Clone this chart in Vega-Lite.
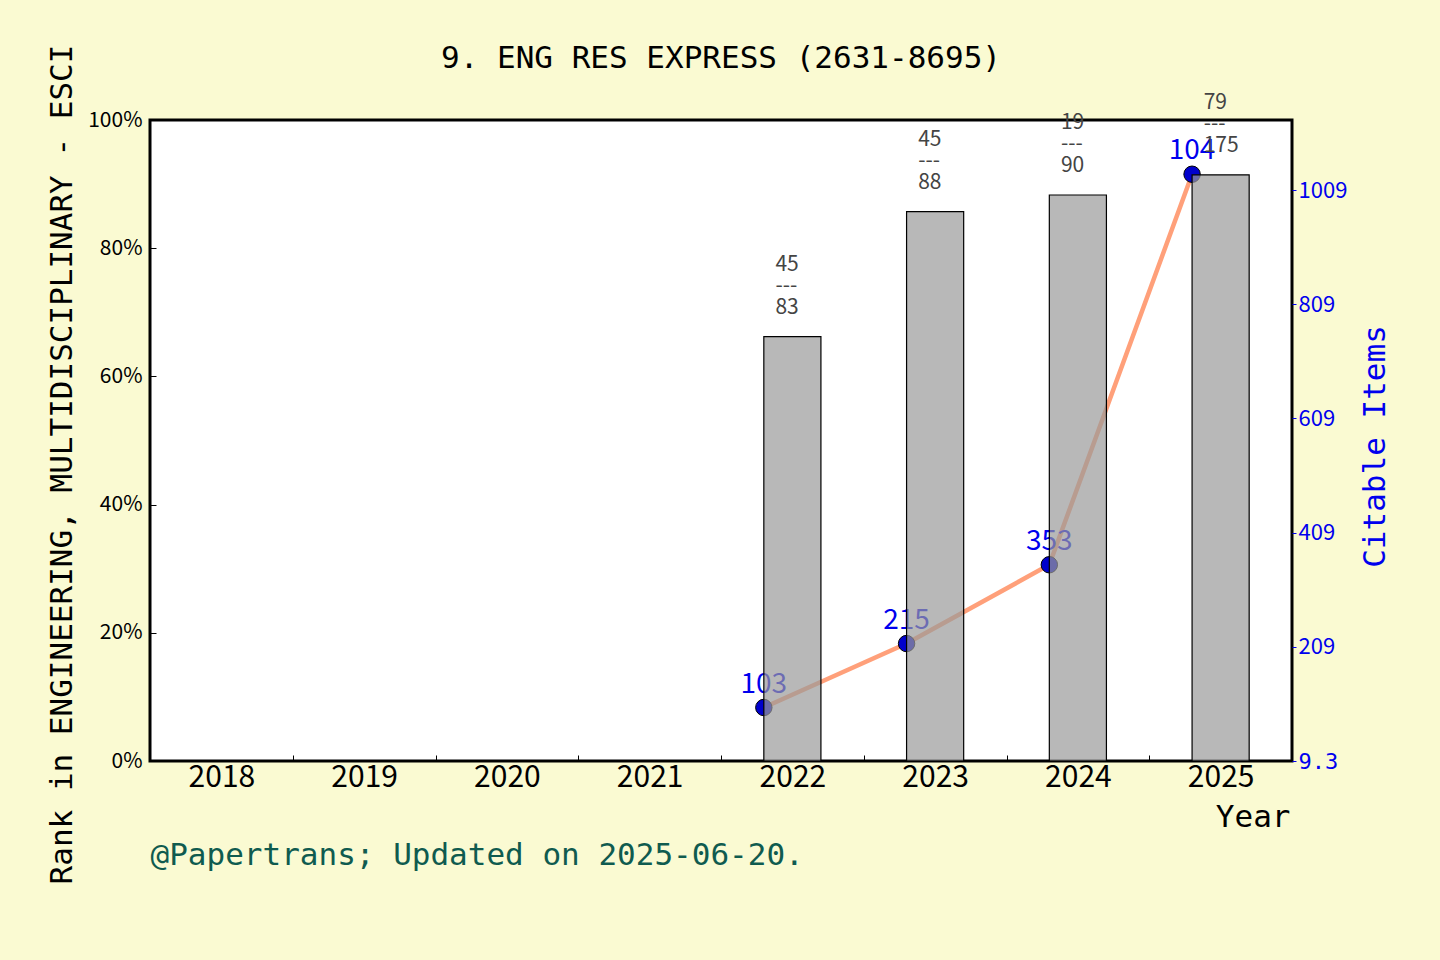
{
  "$schema": "https://vega.github.io/schema/vega-lite/v6.json",
  "width": 1142,
  "height": 641,
  "autosize": {"type": "none"},
  "padding": {"left": 150, "top": 120, "right": 148, "bottom": 199},
  "background": "#fafad2",
  "config": {
    "view": {"fill": "white", "stroke": "black", "strokeWidth": 3},
    "axis": {"grid": false, "domain": false}
  },
  "title": {
    "text": "9. ENG RES EXPRESS (2631-8695)",
    "font": "DejaVu Sans Mono",
    "fontSize": 31,
    "fontWeight": "normal",
    "color": "black",
    "anchor": "middle",
    "offset": -31
  },
  "datasets": {
    "cites": [
      {"year": "2022", "items": 103, "label": "103"},
      {"year": "2023", "items": 215, "label": "215"},
      {"year": "2024", "items": 353, "label": "353"},
      {"year": "2025", "items": 1037, "label": "104"}
    ],
    "ranks": [
      {"year": "2022", "pct": 0.662, "rank": "45\n---\n83"},
      {"year": "2023", "pct": 0.857, "rank": "45\n---\n88"},
      {"year": "2024", "pct": 0.883, "rank": "19\n---\n90"},
      {"year": "2025", "pct": 0.9145, "rank": "79\n---\n175"}
    ]
  },
  "layer": [
    {
      "data": {"name": "cites"},
      "encoding": {
        "x": {
          "field": "year",
          "type": "ordinal",
          "bandPosition": 0.3,
          "scale": {"type": "band", "domain": ["2018", "2019", "2020", "2021", "2022", "2023", "2024", "2025"], "paddingInner": 0, "paddingOuter": 0},
          "axis": {
            "orient": "bottom",
            "domain": false,
            "ticks": false,
            "labels": false,
            "title": "@Papertrans; Updated on 2025-06-20.",
            "titleFont": "DejaVu Sans Mono",
            "titleFontSize": 31,
            "titleFontWeight": "normal",
            "titleColor": "#0f5b4f",
            "titleX": 0,
            "titleY": 94,
            "titleAlign": "left",
            "titleBaseline": "middle",
            "titleAngle": 0
          }
        },
        "y": {
          "field": "items",
          "type": "quantitative",
          "scale": {"domain": [9.3, 1132], "zero": false, "nice": false},
          "axis": {
            "orient": "right",
            "values": [9.3, 209.3, 409.3, 609.3, 809.3, 1009.3],
            "labelExpr": "datum.value < 10 ? '9.3' : format(datum.value, '.0f')",
            "labelColor": "#0000ee",
            "labelFont": {"condition": {"test": "datum.value < 10", "value": "DejaVu Sans Mono"}, "value": "Noto Sans CJK SC"},
            "labelFontSize": 22,
            "labelPadding": 2,
            "tickColor": "#0000ee",
            "tickSize": 4,
            "title": "Citable Items",
            "titleColor": "#0000ee",
            "titleFont": "DejaVu Sans Mono",
            "titleFontSize": 31,
            "titleFontWeight": "normal",
            "titleAngle": -90,
            "titleX": 83,
            "titleY": 326,
            "titleAlign": "center",
            "titleBaseline": "middle"
          }
        }
      },
      "layer": [
        {"mark": {"type": "line", "color": "#ffa07a", "strokeWidth": 4.5}},
        {"mark": {"type": "point", "shape": "circle", "filled": true, "fill": "#0000cc", "stroke": "black", "strokeWidth": 1, "size": 270, "opacity": 1}},
        {
          "mark": {"type": "text", "align": "center", "baseline": "alphabetic", "dy": -15, "font": "Noto Sans CJK SC", "fontSize": 28, "color": "#0000ee"},
          "encoding": {"text": {"field": "label", "type": "nominal"}}
        }
      ]
    },
    {
      "data": {"name": "ranks"},
      "encoding": {
        "x": {
          "field": "year",
          "type": "ordinal",
          "bandPosition": 0.5,
          "scale": {"type": "band", "domain": ["2018", "2019", "2020", "2021", "2022", "2023", "2024", "2025"], "paddingInner": 0, "paddingOuter": 0},
          "axis": {
            "orient": "bottom",
            "labelAngle": 0,
            "labelFont": "Noto Sans CJK SC",
            "labelFontSize": 30,
            "labelColor": "black",
            "labelPadding": 7,
            "tickBand": "extent",
            "tickSize": -6,
            "tickColor": "black",
            "title": "Year",
            "titleFont": "DejaVu Sans Mono",
            "titleFontSize": 31,
            "titleFontWeight": "normal",
            "titleColor": "black",
            "titleX": 1140,
            "titleY": 56,
            "titleAlign": "right",
            "titleBaseline": "middle"
          }
        },
        "y": {
          "field": "pct",
          "type": "quantitative",
          "scale": {"domain": [0, 1], "nice": false},
          "axis": {
            "orient": "left",
            "values": [0, 0.2, 0.4, 0.6, 0.8, 1],
            "format": ".0%",
            "labelFont": "Noto Sans CJK SC",
            "labelFontSize": 21,
            "labelColor": "black",
            "labelPadding": 14,
            "tickSize": -6,
            "tickColor": "black",
            "title": "Rank in ENGINEERING, MULTIDISCIPLINARY - ESCI",
            "titleFont": "DejaVu Sans Mono",
            "titleFontSize": 31,
            "titleFontWeight": "normal",
            "titleColor": "black",
            "titleAngle": -90,
            "titleX": -88,
            "titleY": 344,
            "titleAlign": "center",
            "titleBaseline": "middle"
          }
        }
      },
      "layer": [
        {"mark": {"type": "bar", "fill": "#9a9a9a", "fillOpacity": 0.7, "stroke": "black", "strokeWidth": 1.2, "width": {"band": 0.4}}},
        {
          "mark": {"type": "text", "align": "left", "dx": -17, "baseline": "bottom", "dy": -62, "lineBreak": "\n", "lineHeight": 21.5, "font": "Noto Sans CJK SC", "fontSize": 21, "color": "#444444"},
          "encoding": {"text": {"field": "rank", "type": "nominal"}}
        }
      ]
    }
  ],
  "resolve": {
    "scale": {"y": "independent"},
    "axis": {"y": "independent", "x": "independent"}
  }
}
